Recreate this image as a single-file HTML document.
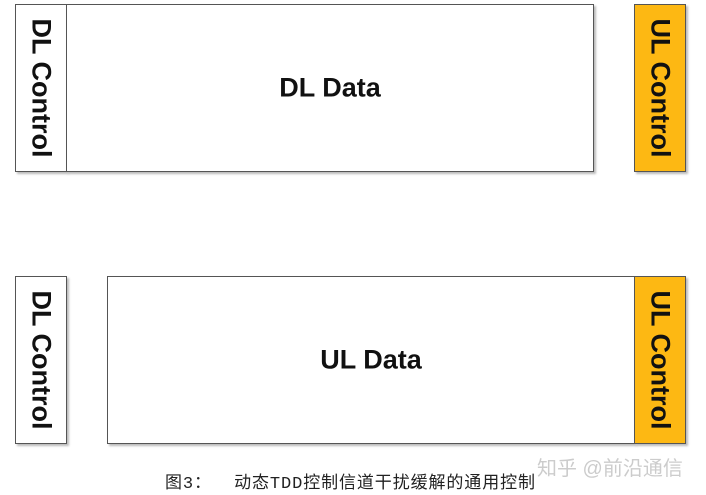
<!DOCTYPE html>
<html><head><meta charset="utf-8"><style>
body{margin:0;width:706px;height:495px;background:#fff;position:relative;overflow:hidden;font-family:"Liberation Sans","Noto Sans CJK SC",sans-serif}
.b{position:absolute;box-sizing:border-box;border:1.5px solid #555;background:#fff;box-shadow:2px 2px 2px #bbb}
.o{background:#fdb813;border-color:#555}
.v{position:absolute;left:50%;top:50%;transform:translate(-50%,-50%) rotate(90deg);white-space:nowrap;font-weight:bold;font-size:27px;color:#111}
.h{position:absolute;left:0;right:0;top:50%;transform:translateY(-50%);text-align:center;font-weight:bold;font-size:27px;color:#111}
</style></head><body>
<div class="b" style="left:15px;top:4px;width:52px;height:168px"><div class="v">DL Control</div></div>
<div class="b" style="left:66px;top:4px;width:528px;height:168px"><div class="h">DL Data</div></div>
<div class="b o" style="left:634px;top:4px;width:52px;height:168px"><div class="v">UL Control</div></div>
<div class="b" style="left:15px;top:276px;width:52px;height:168px"><div class="v">DL Control</div></div>
<div class="b" style="left:107px;top:276px;width:528px;height:168px"><div class="h">UL Data</div></div>
<div class="b o" style="left:634px;top:276px;width:52px;height:168px"><div class="v">UL Control</div></div>
<div style="position:absolute;left:165px;top:468px;font-size:17px;letter-spacing:0.9px;color:#222;white-space:nowrap;font-family:'Liberation Mono','Noto Sans CJK SC',monospace">图3：&nbsp;&nbsp;动态TDD控制信道干扰缓解的通用控制</div>
<div style="position:absolute;left:537px;top:452px;font-size:20px;color:#ccc;white-space:nowrap">知乎 @前沿通信</div>
</body></html>
